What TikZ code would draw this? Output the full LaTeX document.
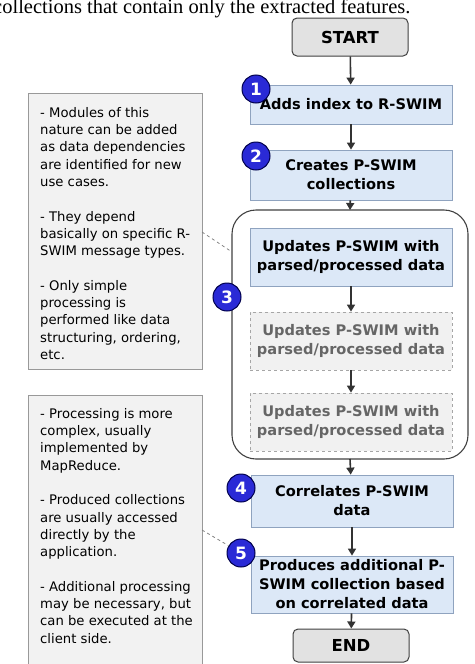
\documentclass[tikz,border=0pt]{standalone}
\usepackage{fontspec}
\setmainfont{DejaVu Sans}
\newfontfamily\serifTop{Liberation Serif}
\usetikzlibrary{arrows.meta,positioning}
\definecolor{boxblue}{HTML}{DCE8F7}
\definecolor{boxborder}{HTML}{8FA3BF}
\definecolor{startgray}{HTML}{E2E2E2}
\definecolor{notefill}{HTML}{F2F2F2}
\definecolor{numblue}{HTML}{2A2AD6}
\definecolor{dashgray}{HTML}{F1F1F1}
\tikzset{
  stepbox/.style={draw=boxborder, line width=0.8pt, fill=boxblue, minimum width=202pt, align=center, font=\bfseries\fontsize{14.6}{19}\selectfont, inner sep=0pt},
  ghostbox/.style={draw=gray!70, dashed, line width=0.8pt, fill=dashgray, minimum width=202pt, align=center, font=\bfseries\fontsize{14.6}{19}\selectfont, text=black!60, inner sep=0pt},
  termbox/.style={draw=black!75, line width=1pt, fill=startgray, rounded corners=5pt, minimum width=116pt, font=\bfseries\fontsize{16.5}{18}\selectfont, inner sep=0pt},
  numdot/.style={circle, draw=black!70!blue, line width=1pt, fill=numblue, text=white, font=\bfseries\fontsize{17}{17}\selectfont, minimum size=28pt, inner sep=0pt},
  notebox/.style={draw=gray!80, line width=0.9pt, fill=notefill, minimum width=174pt, anchor=north west, inner sep=0pt},
  notetext/.style={anchor=north west, align=left, font=\fontsize{13.2}{17.3}\selectfont, inner sep=0pt},
  flow/.style={-{Triangle[length=7pt,width=8pt]}, line width=1.6pt, draw=black!80},
  noteline/.style={draw=gray, dashed, line width=0.8pt}
}
\begin{document}
\begin{tikzpicture}[x=1pt,y=-1pt]
\useasboundingbox (0,0) rectangle (474,664);
\begin{scope}
\clip (0,0) rectangle (474,664);
\node[anchor=base west, font=\serifTop\fontsize{20.5}{22}\selectfont, inner sep=0pt] (toptext) at (-7,13) {collections that contain only the extracted features.};
\end{scope}

% container
\draw[line width=1.1pt, draw=black!75, rounded corners=24pt] (232,210) rectangle (468,459);
\coordinate (contTop) at (350,210);
\coordinate (contBot) at (350,459);
\coordinate (contLeft) at (232,252);

% flow boxes
\node[termbox, minimum height=38pt] (start) at (350,37) {START};
\node[stepbox, minimum height=39pt] (s1) at (351,104.5) {Adds index to R-SWIM};
\node[stepbox, minimum height=50pt] (s2) at (351,175) {Creates P-SWIM\\collections};
\node[stepbox, minimum height=58pt] (s3a) at (351,257) {Updates P-SWIM with\\parsed/processed data};
\node[ghostbox, minimum height=58pt] (s3b) at (351,341) {Updates P-SWIM with\\parsed/processed data};
\node[ghostbox, minimum height=58pt] (s3c) at (351,422) {Updates P-SWIM with\\parsed/processed data};
\node[stepbox, minimum height=52pt] (s4) at (352,501) {Correlates P-SWIM\\data};
\node[stepbox, minimum height=57pt] (s5) at (352,584.5) {Produces additional P-\\SWIM collection based\\on correlated data};
\node[termbox, minimum height=33pt] (end) at (351,645.5) {END};

% arrows
\draw[flow] (start) -- (s1);
\draw[flow] (s1) -- (s2);
\draw[flow] (s2) -- (contTop);
\draw[flow] (s3a) -- (s3b);
\draw[flow] (s3b) -- (s3c);
\draw[flow] (contBot) -- (s4);
\draw[flow] (s4) -- (s5);
\draw[flow] (s5) -- (end);

% notes
\node[notebox, minimum height=276pt] (n1) at (28,93) {};
\node[notetext] (n1t) at (40,107) {- Modules of this\\nature can be added\\as data dependencies\\are identified for new\\use cases.\\[17.3pt]- They depend\\basically on specific R-\\SWIM message types.\\[17.3pt]- Only simple\\processing is\\performed like data\\structuring, ordering,\\etc.};
\node[notebox, minimum height=272pt] (n2) at (28,395) {};
\node[notetext] (n2t) at (40,408) {- Processing is more\\complex, usually\\implemented by\\MapReduce.\\[17.3pt]- Produced collections\\are usually accessed\\directly by the\\application.\\[17.3pt]- Additional processing\\may be necessary, but\\can be executed at the\\client side.};

% numbers
\node[numdot] (c1) at (256,89) {1};
\node[numdot] (c2) at (256,156) {2};
\node[numdot] (c3) at (227,297) {3};
\node[numdot] (c4) at (241,488) {4};
\node[numdot] (c5) at (241,553) {5};

% note connectors
\coordinate (n1p) at (202,232);
\coordinate (n2p) at (202,530);
\draw[noteline] (n1p) -- (contLeft);
\draw[noteline] (n2p) -- (c5);
\end{tikzpicture}
\end{document}
